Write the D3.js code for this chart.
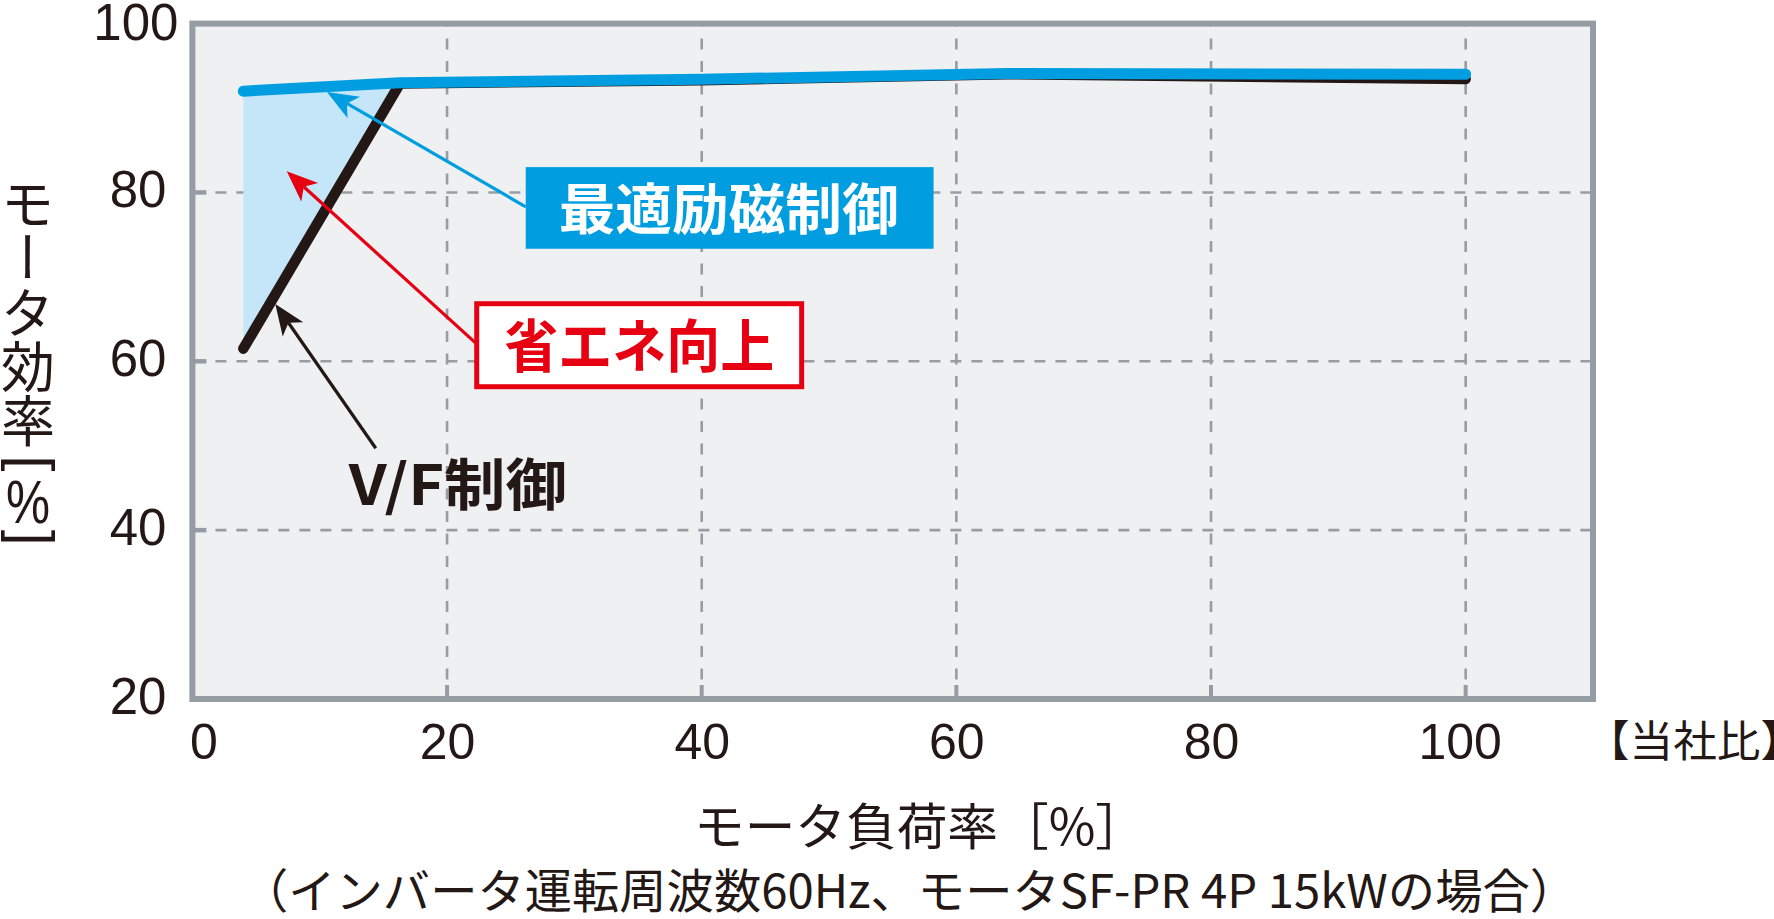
<!DOCTYPE html>
<html lang="ja">
<head>
<meta charset="utf-8">
<script src="https://cdn.jsdelivr.net/npm/d3@7"></script>
<style>
  html, body { margin: 0; padding: 0; background: #ffffff; }
  svg { display: block; }
  .num { font-family: "Liberation Sans", Arial, Helvetica, sans-serif; }
  .jp { font-family: "Noto Sans CJK JP", "Noto Sans", sans-serif; }
</style>
</head>
<body>
<svg id="chart" width="1774" height="919"></svg>
<script>
// ---------------- data ----------------
const loadRate      = [4, 16.3, 40, 64, 100];          // モータ負荷率 [%]
const optimalEff    = [92.0, 93.0, 93.4, 94.1, 94.0];  // 最適励磁制御
const vfEff         = [61.5, 92.9, 93.3, 94.0, 93.45]; // V/F制御
const gainRange     = [0, 1];                          // indices of the 省エネ向上 region
const xTicks        = [0, 20, 40, 60, 80, 100];
const yTicks        = [20, 40, 60, 80, 100];
const xGrid         = [20, 40, 60, 80, 100];
const yGrid         = [40, 60, 80];

// annotation anchors in data units [load, efficiency]
const blueArrow  = [[26.18, 78.3], [10.57, 91.9]];
const redArrow   = [[22.3, 62.1], [7.41, 82.5]];
const blackArrow = [[14.4, 49.7], [6.51, 66.8]];
const blueBox    = [[26.18, 83.0], [58.21, 73.33]];
const redBox     = [[22.33, 66.82], [47.85, 56.99]];
const vfLabelAt  = [12.28, 42.94];

const labels = {
  optimal: "最適励磁制御",
  gain: "省エネ向上",
  vf: "V/F制御",
  yTitle: "モータ効率",
  yUnitOpen: "[", yUnit: "%", yUnitClose: "]",
  xTitle: "モータ負荷率［%］",
  note: "（インバータ運転周波数60Hz、モータSF-PR 4P 15kWの場合）",
  basis: "【当社比】"
};

// ---------------- layout ----------------
const svg = d3.select("#chart");
const x = d3.scaleLinear().domain([0, 110]).range([192.4, 1593]);
const y = d3.scaleLinear().domain([20, 100]).range([699, 23.6]);

const C = {
  bg: "#eff0f2", frame: "#959ca3", grid: "#989da3",
  blue: "#009ee0", fill: "#c5e6f8", black: "#231815", red: "#e60012", text: "#231815"
};

// plot background
svg.append("rect")
  .attr("x", x(0)).attr("y", y(100))
  .attr("width", x(110) - x(0)).attr("height", y(20) - y(100))
  .attr("fill", C.bg);

// grid
svg.append("g").selectAll("line").data(yGrid).join("line")
  .attr("x1", x(0) + 3).attr("x2", x(110) - 3)
  .attr("y1", d => y(d)).attr("y2", d => y(d))
  .attr("stroke", C.grid).attr("stroke-width", 2.6)
  .attr("stroke-dasharray", "11,10").attr("stroke-dashoffset", -20);
svg.append("g").selectAll("line").data(xGrid).join("line")
  .attr("x1", d => x(d)).attr("x2", d => x(d))
  .attr("y1", y(100) + 3).attr("y2", y(20) - 3)
  .attr("stroke", C.grid).attr("stroke-width", 2.6)
  .attr("stroke-dasharray", "11,11.5").attr("stroke-dashoffset", -12);

// inward ticks
svg.append("g").selectAll("line").data(xGrid).join("line")
  .attr("x1", d => x(d)).attr("x2", d => x(d))
  .attr("y1", y(20)).attr("y2", y(20) - 14)
  .attr("stroke", C.frame).attr("stroke-width", 4);
svg.append("g").selectAll("line").data(yGrid).join("line")
  .attr("x1", x(0)).attr("x2", x(0) + 14)
  .attr("y1", d => y(d)).attr("y2", d => y(d))
  .attr("stroke", C.frame).attr("stroke-width", 4.5);

// frame
svg.append("rect")
  .attr("x", x(0)).attr("y", y(100))
  .attr("width", x(110) - x(0)).attr("height", y(20) - y(100))
  .attr("fill", "none").attr("stroke", C.frame).attr("stroke-width", 6);

// axes (labels only)
const xAxis = svg.append("g").attr("transform", `translate(0,${y(20)})`)
  .call(d3.axisBottom(x).tickValues(xTicks).tickSize(0).tickPadding(24));
xAxis.select(".domain").remove();
xAxis.attr("font-family", null).attr("font-size", null);
xAxis.selectAll("text")
  .attr("class", "num").attr("font-size", 50).attr("fill", C.text)
  .attr("dx", d => d === 0 ? 11 : (d === 100 ? -6 : 0));

const yAxis = svg.append("g").attr("transform", `translate(${x(0)},0)`)
  .call(d3.axisLeft(y).tickValues(yTicks).tickSize(0).tickPadding(26));
yAxis.select(".domain").remove();
yAxis.attr("font-family", null).attr("font-size", null);
yAxis.selectAll("text")
  .attr("class", "num").attr("font-size", 51).attr("fill", C.text)
  .attr("dy", d => d === 100 ? "0.31em" : "0.28em")
  .attr("dx", d => d === 100 ? 12 : 0);

// series
const pts = (ys) => loadRate.map((v, i) => [v, ys[i]]);
const line = d3.line().x(d => x(d[0])).y(d => y(d[1]));

const area = d3.area()
  .x(i => x(loadRate[i]))
  .y0(i => y(vfEff[i]))
  .y1(i => y(optimalEff[i]));
svg.append("path").attr("d", area(gainRange)).attr("fill", C.fill);

svg.append("path").attr("d", line(pts(vfEff)))
  .attr("fill", "none").attr("stroke", C.black).attr("stroke-width", 10.5)
  .attr("stroke-linecap", "round").attr("stroke-linejoin", "round");
svg.append("path").attr("d", line(pts(optimalEff)))
  .attr("fill", "none").attr("stroke", C.blue).attr("stroke-width", 11)
  .attr("stroke-linecap", "round").attr("stroke-linejoin", "round");

// arrows
function arrow(seg, color) {
  const [x0, y0] = [x(seg[0][0]), y(seg[0][1])];
  const [x1, y1] = [x(seg[1][0]), y(seg[1][1])];
  const a = Math.atan2(y1 - y0, x1 - x0);
  const L = 31, W = 12.5, N = 23;
  const bx = x1 - L * Math.cos(a), by = y1 - L * Math.sin(a);
  const nx = x1 - N * Math.cos(a), ny = y1 - N * Math.sin(a);
  const px = -Math.sin(a), py = Math.cos(a);
  svg.append("line").attr("x1", x0).attr("y1", y0).attr("x2", nx).attr("y2", ny)
    .attr("stroke", color).attr("stroke-width", 3.2);
  svg.append("path")
    .attr("d", `M${x1},${y1}L${bx + W * px},${by + W * py}L${nx},${ny}L${bx - W * px},${by - W * py}Z`)
    .attr("fill", color);
}
arrow(blueArrow, C.blue);
arrow(redArrow, C.red);
arrow(blackArrow, C.black);

// blue label box
const bb = { x0: x(blueBox[0][0]), y0: y(blueBox[0][1]), x1: x(blueBox[1][0]), y1: y(blueBox[1][1]) };
svg.append("rect").attr("x", bb.x0).attr("y", bb.y0)
  .attr("width", bb.x1 - bb.x0).attr("height", bb.y1 - bb.y0).attr("fill", C.blue);
svg.append("text").attr("class", "jp")
  .attr("x", (bb.x0 + bb.x1) / 2 - 171).attr("y", (bb.y0 + bb.y1) / 2 + 21)
  .attr("font-size", 55).attr("font-weight", 700).attr("fill", "#ffffff")
  .attr("textLength", 340).attr("lengthAdjust", "spacingAndGlyphs")
  .text(labels.optimal);

// red label box
const rb = { x0: x(redBox[0][0]), y0: y(redBox[0][1]), x1: x(redBox[1][0]), y1: y(redBox[1][1]) };
svg.append("rect").attr("x", rb.x0).attr("y", rb.y0)
  .attr("width", rb.x1 - rb.x0).attr("height", rb.y1 - rb.y0)
  .attr("fill", "#ffffff").attr("stroke", C.red).attr("stroke-width", 5);
svg.append("text").attr("class", "jp")
  .attr("x", (rb.x0 + rb.x1) / 2 - 135).attr("y", (rb.y0 + rb.y1) / 2 + 22)
  .attr("font-size", 57).attr("font-weight", 700).attr("fill", C.red)
  .attr("textLength", 270).attr("lengthAdjust", "spacingAndGlyphs")
  .text(labels.gain);

// V/F label
svg.append("text").attr("class", "jp")
  .attr("x", x(vfLabelAt[0])).attr("y", y(vfLabelAt[1]))
  .attr("font-size", 56).attr("font-weight", 700).attr("fill", C.text)
  .attr("textLength", 218).attr("lengthAdjust", "spacingAndGlyphs")
  .text(labels.vf);

// y title (vertical)
svg.append("text").attr("class", "jp")
  .attr("x", 28).attr("y", 176)
  .style("writing-mode", "vertical-rl")
  .attr("font-size", 54).attr("fill", C.text)
  .attr("textLength", 272).attr("lengthAdjust", "spacingAndGlyphs")
  .text(labels.yTitle);
// unit [%] stacked vertically: brackets turned, % upright
svg.append("text").attr("class", "num")
  .attr("transform", "translate(13.2,455.4) rotate(90)")
  .attr("font-size", 57).attr("fill", C.text)
  .text(labels.yUnitOpen);
svg.append("text").attr("class", "num")
  .attr("x", 28).attr("y", 523).attr("text-anchor", "middle")
  .attr("font-size", 61).attr("fill", C.text)
  .attr("textLength", 44).attr("lengthAdjust", "spacingAndGlyphs")
  .text(labels.yUnit);
svg.append("text").attr("class", "num")
  .attr("transform", "translate(13.2,529.8) rotate(90)")
  .attr("font-size", 57).attr("fill", C.text)
  .text(labels.yUnitClose);

// x title & note
svg.append("text").attr("class", "jp")
  .attr("x", 694).attr("y", 845)
  .attr("font-size", 50).attr("fill", C.text)
  .attr("textLength", 452).attr("lengthAdjust", "spacingAndGlyphs")
  .text(labels.xTitle);
svg.append("text").attr("class", "jp")
  .attr("x", 241).attr("y", 908)
  .attr("font-size", 47).attr("fill", C.text)
  .attr("textLength", 1336).attr("lengthAdjust", "spacingAndGlyphs")
  .text(labels.note);
svg.append("text").attr("class", "jp")
  .attr("x", 1586).attr("y", 757)
  .attr("font-size", 43).attr("fill", C.text)
  .attr("textLength", 218).attr("lengthAdjust", "spacingAndGlyphs")
  .text(labels.basis);
</script>
</body>
</html>
